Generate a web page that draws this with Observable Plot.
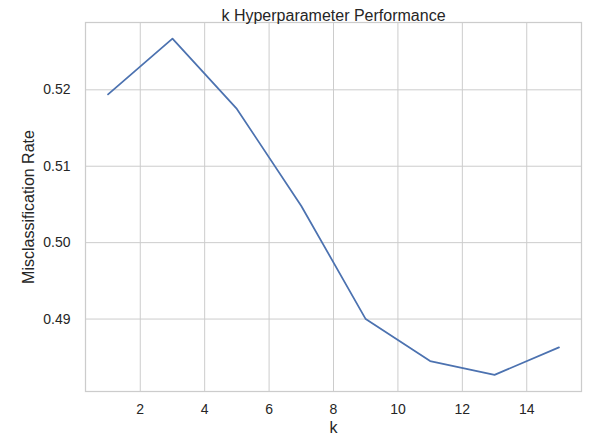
<!DOCTYPE html>
<html>
<head>
<meta charset="utf-8">
<script src="https://cdn.jsdelivr.net/npm/d3@7"></script>
<script src="https://cdn.jsdelivr.net/npm/@observablehq/plot@0.6"></script>
<style>
  html, body { margin: 0; padding: 0; background: #fff; }
  svg { display: block; }
</style>
</head>
<body>
<div id="chart"></div>
<script>
const title = "k Hyperparameter Performance";
const xLabel = "k";
const yLabel = "Misclassification Rate";
const kValues = [1, 3, 5, 7, 9, 11, 13, 15];
const errorRates = [0.5194, 0.5267, 0.5175, 0.5048, 0.4900, 0.4845, 0.4827, 0.4863];
const xTicks = [2, 4, 6, 8, 10, 12, 14];
const yTicks = [0.49, 0.50, 0.51, 0.52];

const data = kValues.map((k, i) => ({k, rate: errorRates[i]}));

const font = "Liberation Sans, Arial, sans-serif";
const textColor = "#262626";

const chart = Plot.plot({
  width: 604,
  height: 442,
  marginLeft: 85,
  marginRight: 23,
  marginTop: 22,
  marginBottom: 51,
  style: {fontFamily: font, fontSize: "14px", color: textColor, background: "#fff"},
  x: {domain: [0.3, 15.7], ticks: xTicks},
  y: {domain: [0.48052, 0.52881], ticks: yTicks},
  marks: [
    Plot.gridX(xTicks, {stroke: "#cccccc", strokeOpacity: 1, strokeWidth: 1}),
    Plot.gridY(yTicks, {stroke: "#cccccc", strokeOpacity: 1, strokeWidth: 1}),
    Plot.frame({stroke: "#cccccc", strokeWidth: 1.25}),
    Plot.axisX(xTicks, {tickSize: 0, tickPadding: 13, fontSize: 14, fill: textColor, label: null}),
    Plot.axisY(yTicks, {tickSize: 0, tickPadding: 15, fontSize: 14, fill: textColor,
      tickFormat: d3.format(".2f"), label: null}),
    Plot.text([xLabel], {frameAnchor: "bottom", dy: 41, fontSize: 16, fill: textColor}),
    Plot.text([yLabel], {frameAnchor: "left", textAnchor: "middle", dx: -57, rotate: -90, fontSize: 16, fill: textColor}),
    Plot.line(data, {x: "k", y: "rate", stroke: "#4c72b0", strokeWidth: 1.75}),
    Plot.text([title], {frameAnchor: "top", dy: -13, fontSize: 16, fill: textColor})
  ]
});
document.getElementById("chart").appendChild(chart);
</script>
</body>
</html>
